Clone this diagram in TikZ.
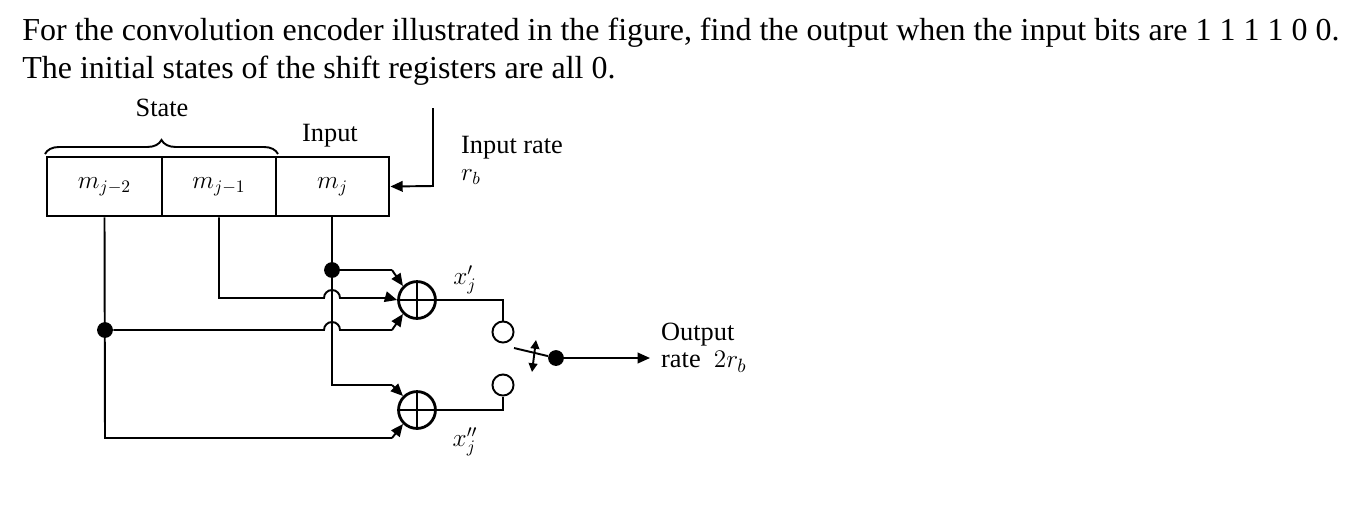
\documentclass[tikz,border=0pt]{standalone}
\usepackage{fontspec}
\setmainfont{Liberation Serif}
\usetikzlibrary{arrows.meta,decorations.pathreplacing}
\begin{document}
\begin{tikzpicture}[x=0.02cm,y=-0.02cm,
  wire/.style={line width=1.1pt},
  arr/.style={wire,-{Triangle[length=7pt,width=6pt]}},
  dotn/.style={circle,fill,inner sep=0pt,minimum size=9pt},
  term/.style={circle,draw,line width=1.1pt,fill=white,inner sep=0pt,minimum size=12pt},
  adder/.style={circle,draw,line width=1.6pt,inner sep=0pt,minimum size=21pt,
    path picture={\draw[line width=1.1pt] (path picture bounding box.north)--(path picture bounding box.south) (path picture bounding box.west)--(path picture bounding box.east);}},
  lbl/.style={font=\fontsize{15}{18}\selectfont},
  mlbl/.style={font=\fontsize{14}{17}\selectfont}]
\useasboundingbox (0,0) rectangle (1358,512);
\node[inner sep=0pt,anchor=base west,font=\fontsize{18.2}{20}\selectfont] (t1) at (22,40) {For the convolution encoder illustrated in the figure, find the output when the input bits are 1 1 1 1 0 0.};
\node[inner sep=0pt,anchor=base west,font=\fontsize{18.2}{20}\selectfont] (t2) at (22,78) {The initial states of the shift registers are all 0.};
% register
\node[mlbl,draw,line width=1.6pt,minimum width=2.3cm,minimum height=1.18cm,inner sep=0pt] (r1) at (104.5,186.5) {$m_{j-2}$};
\node[mlbl,draw,line width=1.6pt,minimum width=2.28cm,minimum height=1.18cm,inner sep=0pt] (r2) at (219,186.5) {$m_{j-1}$};
\node[mlbl,draw,line width=1.6pt,minimum width=2.26cm,minimum height=1.18cm,inner sep=0pt] (r3) at (332.5,186.5) {$m_j$};
\draw[wire,decorate,decoration={brace,amplitude=8pt}] (45,154) -- (278,154);
\node[lbl] (state) at (162,108) {State};
\node[lbl] (inp) at (330,136) {Input};
\coordinate (ins) at (433,108);
\coordinate (inc) at (433,186);
\draw[arr] (ins) -- (inc) -- (r3.east);
\node[lbl,anchor=west] (irate) at (455,148) {Input rate};
\node[mlbl,anchor=west] (rb) at (455,177) {$r_b$};
% adders
\node[adder] (a1) at (417,300) {};
\node[adder] (a2) at (417,410) {};
\node[dotn] (d1) at (332,270) {};
\node[dotn] (d2) at (105,330) {};
\draw[wire] (r3.south -| 332,0) -- (332,385) -- (392,385);
\draw[arr] (392,385) -- (a2.135);
\draw[wire] (d1) -- (392,270);
\draw[arr] (392,270) -- (a1.135);
\draw[wire] (r2.south) -- (219,298) -- (324,298) arc[start angle=180,end angle=360,radius=8] -- (390,298);
\draw[arr] (390,298) -- (a1.west);
\draw[wire] (r1.south) -- (105,438) -- (392,438);
\draw[arr] (392,438) -- (a2.225);
\draw[wire] (d2) -- (324,330) arc[start angle=180,end angle=360,radius=8] -- (392,330);
\draw[arr] (392,330) -- (a1.225);
% switch
\node[term] (s1) at (503,332) {};
\node[term] (s2) at (503,385) {};
\draw[wire] (a1.east) -- (503,300) -- (s1);
\draw[wire] (a2.east) -- (503,410) -- (s2);
\node[dotn] (pv) at (556,358) {};
\draw[wire] (514,348) -- (pv);
\draw[wire,{Triangle[length=5pt,width=5pt]}-{Triangle[length=5pt,width=5pt]}] (536,340) -- (532,372);
\coordinate (oe) at (650,358);
\draw[arr] (pv) -- (oe);
\node[lbl,anchor=west] (out1) at (655,335) {Output};
\node[lbl,anchor=west] (out2) at (655,362) {rate\ \ $2r_b$};
\node[mlbl] (xp) at (465,280) {$x'_j$};
\node[mlbl] (xpp) at (465,442) {$x''_j$};
\end{tikzpicture}
\end{document}
